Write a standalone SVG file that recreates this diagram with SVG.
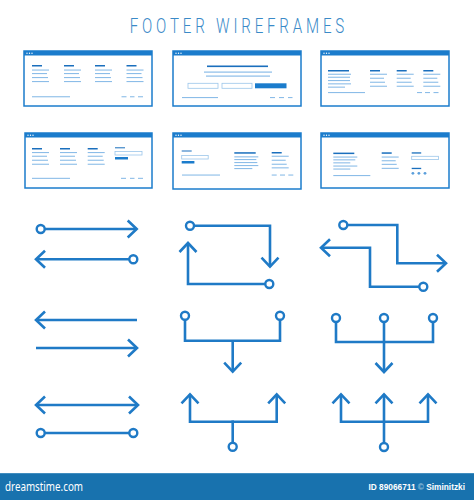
<svg xmlns="http://www.w3.org/2000/svg" width="474" height="500" viewBox="0 0 474 500">
<defs>
<style>
.frame{fill:#fff;stroke:#1b7ccc;stroke-width:1.5}
.tbar{fill:#1b7ccc}
.tdot{fill:#fff}
.dk{fill:#1a6fbd}
.lt{fill:#8cbde8}
.box{fill:#fff;stroke:#9cc6ea;stroke-width:0.8}
.btn{fill:#1b7ccc}
.dot{fill:#5b9fdc}
.arr{fill:none;stroke:#1f7ac6;stroke-width:2.6;stroke-linejoin:miter}
.head{marker-end:url(#chev)}
.node{fill:#fff;stroke:#1f7ac6;stroke-width:2.4}
</style>
<marker id="chev" markerUnits="userSpaceOnUse" viewBox="-12 -11 14 22" refX="0" refY="0" markerWidth="14" markerHeight="22" orient="auto-start-reverse" overflow="visible">
<path d="M-9,-8.5 L0,0 L-9,8.5" fill="none" stroke="#1f7ac6" stroke-width="2.6"/>
</marker>
</defs>
<rect width="474" height="500" fill="#fff"/>
<g id="title">
<g transform="translate(237,33) scale(0.72,1)">
<text x="0" y="0" text-anchor="middle" font-family="Roboto, 'Liberation Sans', sans-serif" font-weight="300" font-size="21" fill="#3a8ac8" textLength="298" lengthAdjust="spacing">FOOTER WIREFRAMES</text>
</g>
</g>

<g id="wf1">
<rect class="frame" x="24" y="51" width="128" height="55"/>
<rect class="tbar" x="24" y="51" width="128" height="4.5"/>
<circle class="tdot" cx="27" cy="53.2" r="0.7"/><circle class="tdot" cx="29.5" cy="53.2" r="0.7"/><circle class="tdot" cx="32" cy="53.2" r="0.7"/>
<rect class="dk" x="32" y="65" width="10" height="1.5"/><rect class="lt" x="32" y="69.5" width="17" height="1.1"/><rect class="lt" x="32" y="73" width="15" height="1.1"/><rect class="lt" x="32" y="77" width="16" height="1.1"/><rect class="lt" x="32" y="81" width="17" height="1.1"/>
<rect class="dk" x="64" y="65" width="10" height="1.5"/><rect class="lt" x="64" y="69.5" width="17" height="1.1"/><rect class="lt" x="64" y="73" width="15" height="1.1"/><rect class="lt" x="64" y="77" width="16" height="1.1"/><rect class="lt" x="64" y="81" width="17" height="1.1"/>
<rect class="dk" x="95" y="65" width="10" height="1.5"/><rect class="lt" x="95" y="69.5" width="17" height="1.1"/><rect class="lt" x="95" y="73" width="15" height="1.1"/><rect class="lt" x="95" y="77" width="16" height="1.1"/><rect class="lt" x="95" y="81" width="17" height="1.1"/>
<rect class="dk" x="126.5" y="65" width="10" height="1.5"/><rect class="lt" x="126.5" y="69.5" width="17" height="1.1"/><rect class="lt" x="126.5" y="73" width="15" height="1.1"/><rect class="lt" x="126.5" y="77" width="16" height="1.1"/><rect class="lt" x="126.5" y="81" width="17" height="1.1"/>
<rect class="lt" x="32" y="96.2" width="38" height="1.1"/>
<rect class="lt" x="121.5" y="96.2" width="5" height="1.1"/><rect class="lt" x="130" y="96.2" width="4.5" height="1.1"/><rect class="lt" x="138" y="96.2" width="5" height="1.1"/>
</g>

<g id="wf2">
<rect class="frame" x="173" y="51" width="128" height="55"/>
<rect class="tbar" x="173" y="51" width="128" height="4.5"/>
<circle class="tdot" cx="176" cy="53.2" r="0.7"/><circle class="tdot" cx="178.5" cy="53.2" r="0.7"/><circle class="tdot" cx="181" cy="53.2" r="0.7"/>
<rect class="dk" x="207" y="65.5" width="61" height="1.6"/>
<rect class="lt" x="204" y="71.5" width="68" height="1.2"/>
<rect class="lt" x="206" y="75.5" width="64" height="1.2"/>
<rect class="box" x="188" y="83.3" width="30" height="5"/>
<rect class="box" x="222" y="83.3" width="30" height="5"/>
<rect class="btn" x="255" y="83.3" width="31.5" height="5"/>
<rect class="lt" x="182" y="97" width="36" height="1.1"/>
<rect class="lt" x="270" y="97" width="5" height="1.1"/><rect class="lt" x="279" y="97" width="5" height="1.1"/><rect class="lt" x="288" y="97" width="4.5" height="1.1"/>
</g>

<g id="wf3">
<rect class="frame" x="321" y="51" width="128" height="55"/>
<rect class="tbar" x="321" y="51" width="128" height="4.5"/>
<circle class="tdot" cx="324" cy="53.2" r="0.7"/><circle class="tdot" cx="326.5" cy="53.2" r="0.7"/><circle class="tdot" cx="329" cy="53.2" r="0.7"/>
<rect class="dk" x="328" y="70" width="21" height="1.5"/>
<rect class="lt" x="328" y="73.7" width="23" height="1.1"/><rect class="lt" x="328" y="76.7" width="22" height="1.1"/><rect class="lt" x="328" y="80" width="22" height="1.1"/><rect class="lt" x="328" y="83.3" width="23" height="1.1"/><rect class="lt" x="328" y="86.6" width="17" height="1.1"/>
<rect class="dk" x="370" y="70" width="10" height="1.5"/><rect class="lt" x="370" y="73.7" width="17" height="1.1"/><rect class="lt" x="370" y="77.7" width="14" height="1.1"/><rect class="lt" x="370" y="81.7" width="15" height="1.1"/><rect class="lt" x="370" y="85.7" width="17" height="1.1"/>
<rect class="dk" x="396.7" y="70" width="10" height="1.5"/><rect class="lt" x="396.7" y="73.7" width="17" height="1.1"/><rect class="lt" x="396.7" y="77.7" width="14" height="1.1"/><rect class="lt" x="396.7" y="81.7" width="15" height="1.1"/><rect class="lt" x="396.7" y="85.7" width="17" height="1.1"/>
<rect class="dk" x="423.3" y="70" width="10" height="1.5"/><rect class="lt" x="423.3" y="73.7" width="17" height="1.1"/><rect class="lt" x="423.3" y="77.7" width="14" height="1.1"/><rect class="lt" x="423.3" y="81.7" width="15" height="1.1"/><rect class="lt" x="423.3" y="85.7" width="17" height="1.1"/>
<rect class="lt" x="328" y="92" width="37" height="1.1"/>
<rect class="lt" x="417" y="92" width="5" height="1.1"/><rect class="lt" x="425" y="92" width="5" height="1.1"/><rect class="lt" x="433.5" y="92" width="5" height="1.1"/>
</g>

<g id="wf4">
<rect class="frame" x="25" y="133" width="127" height="55"/>
<rect class="tbar" x="25" y="133" width="127" height="4.5"/>
<circle class="tdot" cx="28" cy="135.2" r="0.7"/><circle class="tdot" cx="30.5" cy="135.2" r="0.7"/><circle class="tdot" cx="33" cy="135.2" r="0.7"/>
<rect class="dk" x="32" y="148" width="10" height="1.5"/><rect class="lt" x="32" y="152" width="17" height="1.1"/><rect class="lt" x="32" y="155.7" width="15" height="1.1"/><rect class="lt" x="32" y="159.7" width="16" height="1.1"/><rect class="lt" x="32" y="163.7" width="17" height="1.1"/>
<rect class="dk" x="60" y="148" width="10" height="1.5"/><rect class="lt" x="60" y="152" width="17" height="1.1"/><rect class="lt" x="60" y="155.7" width="15" height="1.1"/><rect class="lt" x="60" y="159.7" width="16" height="1.1"/><rect class="lt" x="60" y="163.7" width="17" height="1.1"/>
<rect class="dk" x="87.7" y="148" width="10" height="1.5"/><rect class="lt" x="87.7" y="152" width="17" height="1.1"/><rect class="lt" x="87.7" y="155.7" width="15" height="1.1"/><rect class="lt" x="87.7" y="159.7" width="16" height="1.1"/><rect class="lt" x="87.7" y="163.7" width="17" height="1.1"/>
<rect class="dk" x="115" y="147.3" width="10" height="1"/>
<rect class="box" x="115" y="151.5" width="27" height="3.5"/>
<rect class="btn" x="115" y="157" width="13" height="2.5"/>
<rect class="lt" x="32" y="177.8" width="38" height="1.1"/>
<rect class="lt" x="121" y="177.8" width="5" height="1.1"/><rect class="lt" x="130" y="177.8" width="4.5" height="1.1"/><rect class="lt" x="138" y="177.8" width="5" height="1.1"/>
</g>

<g id="wf5">
<rect class="frame" x="173" y="133" width="128" height="56"/>
<rect class="tbar" x="173" y="133" width="128" height="4.5"/>
<circle class="tdot" cx="176" cy="135.2" r="0.7"/><circle class="tdot" cx="178.5" cy="135.2" r="0.7"/><circle class="tdot" cx="181" cy="135.2" r="0.7"/>
<rect class="dk" x="181.7" y="150.5" width="10" height="1"/>
<rect class="box" x="181.7" y="155.5" width="26.5" height="3.5"/>
<rect class="btn" x="181.7" y="161" width="12.7" height="2.5"/>
<rect class="dk" x="234.3" y="152.2" width="21.4" height="1.5"/>
<rect class="lt" x="234.3" y="156.3" width="24" height="1.1"/><rect class="lt" x="234.3" y="159" width="22" height="1.1"/><rect class="lt" x="234.3" y="162" width="23" height="1.1"/><rect class="lt" x="234.3" y="165" width="24" height="1.1"/><rect class="lt" x="234.3" y="168" width="18" height="1.1"/>
<rect class="dk" x="271.7" y="152" width="10" height="1.5"/><rect class="lt" x="271.7" y="155.7" width="17" height="1.1"/><rect class="lt" x="271.7" y="159.7" width="14" height="1.1"/><rect class="lt" x="271.7" y="163.7" width="15" height="1.1"/><rect class="lt" x="271.7" y="167.3" width="17" height="1.1"/>
<rect class="lt" x="182" y="174.5" width="38" height="1.1"/>
<rect class="lt" x="271.7" y="174.5" width="5" height="1.1"/><rect class="lt" x="280" y="174.5" width="5" height="1.1"/><rect class="lt" x="288.3" y="174.5" width="5" height="1.1"/>
</g>

<g id="wf6">
<rect class="frame" x="321" y="133" width="128" height="55"/>
<rect class="tbar" x="321" y="133" width="128" height="4.5"/>
<circle class="tdot" cx="324" cy="135.2" r="0.7"/><circle class="tdot" cx="326.5" cy="135.2" r="0.7"/><circle class="tdot" cx="329" cy="135.2" r="0.7"/>
<rect class="dk" x="333.3" y="152.6" width="21" height="1.5"/>
<rect class="lt" x="333.3" y="156.5" width="24" height="1.1"/><rect class="lt" x="333.3" y="159.3" width="22" height="1.1"/><rect class="lt" x="333.3" y="162.3" width="17" height="1.1"/><rect class="lt" x="333.3" y="165.5" width="24" height="1.1"/><rect class="lt" x="333.3" y="168.5" width="17" height="1.1"/>
<rect class="lt" x="333.3" y="175" width="37" height="1.1"/>
<rect class="dk" x="381.7" y="152.3" width="10" height="1.5"/><rect class="lt" x="381.7" y="156.5" width="17" height="1.1"/><rect class="lt" x="381.7" y="160.2" width="14" height="1.1"/><rect class="lt" x="381.7" y="163.8" width="15" height="1.1"/><rect class="lt" x="381.7" y="167.8" width="17" height="1.1"/>
<rect class="dk" x="411.7" y="152.3" width="9.5" height="1.3"/>
<rect class="box" x="411.7" y="156.3" width="26.7" height="3.3"/>
<rect class="dk" x="411.7" y="167.8" width="9.5" height="1.3"/>
<circle class="dot" cx="412.9" cy="173.3" r="1.4"/><circle class="dot" cx="418.9" cy="173.3" r="1.4"/><circle class="dot" cx="425" cy="173.3" r="1.4"/>
</g>

<g id="connectors">
<g id="flowA">
<path class="arr head" d="M40.7,229 H136.7"/>
<path class="arr head" d="M133.3,259.3 H36"/>
<circle class="node" cx="40.7" cy="229" r="4"/>
<circle class="node" cx="133.3" cy="259.3" r="4"/>
</g>
<g id="flowB">
<path class="arr head" d="M190,225.7 H270 V266.7"/>
<path class="arr head" d="M269.3,284 H188 V243"/>
<circle class="node" cx="190" cy="225.7" r="4"/>
<circle class="node" cx="269.3" cy="284" r="4"/>
</g>
<g id="flowC">
<path class="arr head" d="M343.3,225 H397.3 V263.3 H446"/>
<path class="arr head" d="M423.3,286.7 H370 V247.7 H321"/>
<circle class="node" cx="343.3" cy="225" r="4"/>
<circle class="node" cx="423.3" cy="286.7" r="4"/>
</g>
<g id="flowD">
<path class="arr head" d="M137,320 H36"/>
<path class="arr head" d="M36,348 H137"/>
</g>
<g id="flowE">
<path class="arr" d="M185,315.7 V340.7 H280 V315.7"/>
<path class="arr head" d="M232.7,340.7 V371.7"/>
<circle class="node" cx="185" cy="315.7" r="4"/>
<circle class="node" cx="280" cy="315.7" r="4"/>
</g>
<g id="flowF">
<path class="arr" d="M336,318 V342 H433 V318"/>
<path class="arr head" d="M384,318 V372"/>
<circle class="node" cx="336" cy="318" r="4"/>
<circle class="node" cx="384" cy="318" r="4"/>
<circle class="node" cx="433" cy="318" r="4"/>
</g>
<g id="flowG">
<path class="arr" d="M36,405 H138" marker-start="url(#chev)" marker-end="url(#chev)"/>
<path class="arr" d="M40.7,433 H133.3"/>
<circle class="node" cx="40.7" cy="433" r="4"/>
<circle class="node" cx="133.3" cy="433" r="4"/>
</g>
<g id="flowH">
<path class="arr head" d="M232.7,421.7 H190 V394.3"/>
<path class="arr head" d="M232.7,421.7 H276.7 V394.3"/>
<path class="arr" d="M232.7,420.4 V446.7"/>
<circle class="node" cx="232.7" cy="446.7" r="4"/>
</g>
<g id="flowI">
<path class="arr head" d="M384,421.7 H341 V394.3"/>
<path class="arr head" d="M384,421.7 H428 V394.3"/>
<path class="arr head" d="M384,447 V394.3"/>
<circle class="node" cx="384" cy="447" r="4"/>
</g>
</g>

<g id="footer-bar">
<rect x="0" y="473" width="474" height="27" fill="#1872ae"/>
<rect x="0" y="473" width="474" height="0.8" fill="#4d94c4"/>
<text x="5" y="491" font-family="'Noto Sans', 'Liberation Sans', sans-serif" font-size="12" fill="#fff" textLength="78" lengthAdjust="spacingAndGlyphs">dreamstime.com</text>
<text x="465" y="489.5" text-anchor="end" font-family="'Liberation Sans', Arial, sans-serif" font-weight="bold" font-size="8.3" fill="#fff">ID 89066711 <tspan fill="#9cc3df">©</tspan> Siminitzki</text>
</g>
</svg>
